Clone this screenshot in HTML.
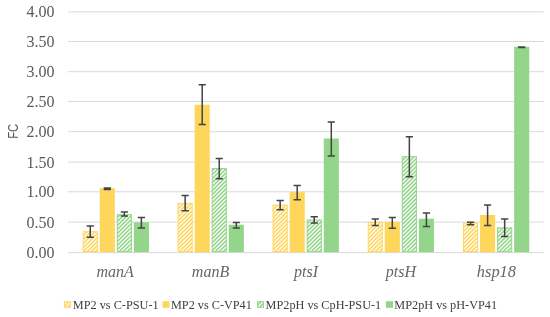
<!DOCTYPE html><html><head><meta charset="utf-8"><style>html,body{margin:0;padding:0;background:#fff;}svg{display:block;}</style></head><body>
<svg width="550" height="317" viewBox="0 0 550 317">
<defs>
<pattern id="hy" patternUnits="userSpaceOnUse" width="4" height="4"><polygon points="0,1.8 1.8,0 4,0 0,4" fill="#FFD65C"/><polygon points="4,1.8 1.8,4 4,4" fill="#FFD65C"/></pattern>
<pattern id="hg" patternUnits="userSpaceOnUse" width="4" height="4"><polygon points="0,1.8 1.8,0 4,0 0,4" fill="#93D58B"/><polygon points="4,1.8 1.8,4 4,4" fill="#93D58B"/></pattern>
</defs>
<line x1="68.0" y1="252.6" x2="543.6" y2="252.6" stroke="#D9D9D9" stroke-width="1"/>
<line x1="68.0" y1="222.1" x2="543.6" y2="222.1" stroke="#D9D9D9" stroke-width="1"/>
<line x1="68.0" y1="191.8" x2="543.6" y2="191.8" stroke="#D9D9D9" stroke-width="1"/>
<line x1="68.0" y1="162.1" x2="543.6" y2="162.1" stroke="#D9D9D9" stroke-width="1"/>
<line x1="68.0" y1="131.7" x2="543.6" y2="131.7" stroke="#D9D9D9" stroke-width="1"/>
<line x1="68.0" y1="101.5" x2="543.6" y2="101.5" stroke="#D9D9D9" stroke-width="1"/>
<line x1="68.0" y1="71.7" x2="543.6" y2="71.7" stroke="#D9D9D9" stroke-width="1"/>
<line x1="68.0" y1="41.5" x2="543.6" y2="41.5" stroke="#D9D9D9" stroke-width="1"/>
<line x1="68.0" y1="11.9" x2="543.6" y2="11.9" stroke="#D9D9D9" stroke-width="1"/>
<text x="54.5" y="258.1" text-anchor="end" font-family="Liberation Serif, serif" font-size="16" fill="#595959">0.00</text>
<text x="54.5" y="227.6" text-anchor="end" font-family="Liberation Serif, serif" font-size="16" fill="#595959">0.50</text>
<text x="54.5" y="197.3" text-anchor="end" font-family="Liberation Serif, serif" font-size="16" fill="#595959">1.00</text>
<text x="54.5" y="167.6" text-anchor="end" font-family="Liberation Serif, serif" font-size="16" fill="#595959">1.50</text>
<text x="54.5" y="137.2" text-anchor="end" font-family="Liberation Serif, serif" font-size="16" fill="#595959">2.00</text>
<text x="54.5" y="107.0" text-anchor="end" font-family="Liberation Serif, serif" font-size="16" fill="#595959">2.50</text>
<text x="54.5" y="77.2" text-anchor="end" font-family="Liberation Serif, serif" font-size="16" fill="#595959">3.00</text>
<text x="54.5" y="47.0" text-anchor="end" font-family="Liberation Serif, serif" font-size="16" fill="#595959">3.50</text>
<text x="54.5" y="17.4" text-anchor="end" font-family="Liberation Serif, serif" font-size="16" fill="#595959">4.00</text>
<rect x="83.20" y="231.70" width="14.10" height="20.00" fill="#fff"/>
<rect x="83.20" y="231.70" width="14.10" height="20.00" fill="url(#hy)" stroke="#FFD65C" stroke-width="1"/>
<path d="M86.65 226.10H93.85M90.25 226.10V237.30M86.65 237.30H93.85" stroke="#444444" stroke-width="1.5" fill="none"/>
<rect x="99.75" y="188.10" width="15.10" height="64.10" fill="#FFD65C"/>
<path d="M103.70 187.90H110.90M107.30 187.90V189.60M103.70 189.60H110.90" stroke="#444444" stroke-width="1.5" fill="none"/>
<rect x="117.30" y="214.70" width="14.10" height="37.00" fill="#fff"/>
<rect x="117.30" y="214.70" width="14.10" height="37.00" fill="url(#hg)" stroke="#93D58B" stroke-width="1"/>
<path d="M120.75 211.90H127.95M124.35 211.90V216.10M120.75 216.10H127.95" stroke="#444444" stroke-width="1.5" fill="none"/>
<rect x="133.85" y="222.30" width="15.10" height="29.90" fill="#93D58B"/>
<path d="M137.80 217.40H145.00M141.40 217.40V228.00M137.80 228.00H145.00" stroke="#444444" stroke-width="1.5" fill="none"/>
<rect x="178.10" y="203.40" width="14.10" height="48.30" fill="#fff"/>
<rect x="178.10" y="203.40" width="14.10" height="48.30" fill="url(#hy)" stroke="#FFD65C" stroke-width="1"/>
<path d="M181.55 195.50H188.75M185.15 195.50V210.70M181.55 210.70H188.75" stroke="#444444" stroke-width="1.5" fill="none"/>
<rect x="194.65" y="104.70" width="15.10" height="147.50" fill="#FFD65C"/>
<path d="M198.60 84.80H205.80M202.20 84.80V124.60M198.60 124.60H205.80" stroke="#444444" stroke-width="1.5" fill="none"/>
<rect x="212.20" y="168.50" width="14.10" height="83.20" fill="#fff"/>
<rect x="212.20" y="168.50" width="14.10" height="83.20" fill="url(#hg)" stroke="#93D58B" stroke-width="1"/>
<path d="M215.65 158.60H222.85M219.25 158.60V178.70M215.65 178.70H222.85" stroke="#444444" stroke-width="1.5" fill="none"/>
<rect x="228.75" y="224.70" width="15.10" height="27.50" fill="#93D58B"/>
<path d="M232.70 222.40H239.90M236.30 222.40V227.90M232.70 227.90H239.90" stroke="#444444" stroke-width="1.5" fill="none"/>
<rect x="273.10" y="205.10" width="14.10" height="46.60" fill="#fff"/>
<rect x="273.10" y="205.10" width="14.10" height="46.60" fill="url(#hy)" stroke="#FFD65C" stroke-width="1"/>
<path d="M276.55 200.60H283.75M280.15 200.60V209.80M276.55 209.80H283.75" stroke="#444444" stroke-width="1.5" fill="none"/>
<rect x="289.65" y="192.10" width="15.10" height="60.10" fill="#FFD65C"/>
<path d="M293.60 185.60H300.80M297.20 185.60V199.70M293.60 199.70H300.80" stroke="#444444" stroke-width="1.5" fill="none"/>
<rect x="307.20" y="220.00" width="14.10" height="31.70" fill="#fff"/>
<rect x="307.20" y="220.00" width="14.10" height="31.70" fill="url(#hg)" stroke="#93D58B" stroke-width="1"/>
<path d="M310.65 216.80H317.85M314.25 216.80V223.00M310.65 223.00H317.85" stroke="#444444" stroke-width="1.5" fill="none"/>
<rect x="323.75" y="138.50" width="15.10" height="113.70" fill="#93D58B"/>
<path d="M327.70 121.90H334.90M331.30 121.90V155.90M327.70 155.90H334.90" stroke="#444444" stroke-width="1.5" fill="none"/>
<rect x="368.20" y="222.40" width="14.10" height="29.30" fill="#fff"/>
<rect x="368.20" y="222.40" width="14.10" height="29.30" fill="url(#hy)" stroke="#FFD65C" stroke-width="1"/>
<path d="M371.65 218.90H378.85M375.25 218.90V225.60M371.65 225.60H378.85" stroke="#444444" stroke-width="1.5" fill="none"/>
<rect x="384.75" y="221.90" width="15.10" height="30.30" fill="#FFD65C"/>
<path d="M388.70 217.50H395.90M392.30 217.50V228.30M388.70 228.30H395.90" stroke="#444444" stroke-width="1.5" fill="none"/>
<rect x="402.30" y="156.70" width="14.10" height="95.00" fill="#fff"/>
<rect x="402.30" y="156.70" width="14.10" height="95.00" fill="url(#hg)" stroke="#93D58B" stroke-width="1"/>
<path d="M405.75 136.70H412.95M409.35 136.70V176.80M405.75 176.80H412.95" stroke="#444444" stroke-width="1.5" fill="none"/>
<rect x="418.85" y="218.70" width="15.10" height="33.50" fill="#93D58B"/>
<path d="M422.80 212.90H430.00M426.40 212.90V226.50M422.80 226.50H430.00" stroke="#444444" stroke-width="1.5" fill="none"/>
<rect x="463.50" y="223.10" width="14.10" height="28.60" fill="#fff"/>
<rect x="463.50" y="223.10" width="14.10" height="28.60" fill="url(#hy)" stroke="#FFD65C" stroke-width="1"/>
<path d="M466.95 222.20H474.15M470.55 222.20V224.70M466.95 224.70H474.15" stroke="#444444" stroke-width="1.5" fill="none"/>
<rect x="480.05" y="215.00" width="15.10" height="37.20" fill="#FFD65C"/>
<path d="M484.00 204.90H491.20M487.60 204.90V225.60M484.00 225.60H491.20" stroke="#444444" stroke-width="1.5" fill="none"/>
<rect x="497.60" y="227.90" width="14.10" height="23.80" fill="#fff"/>
<rect x="497.60" y="227.90" width="14.10" height="23.80" fill="url(#hg)" stroke="#93D58B" stroke-width="1"/>
<path d="M501.05 218.90H508.25M504.65 218.90V236.60M501.05 236.60H508.25" stroke="#444444" stroke-width="1.5" fill="none"/>
<rect x="514.15" y="46.80" width="15.10" height="205.40" fill="#93D58B"/>
<path d="M518.10 46.90H525.30M521.70 46.90V47.50M518.10 47.50H525.30" stroke="#444444" stroke-width="1.5" fill="none"/>
<text x="115.1" y="276.8" text-anchor="middle" font-family="Liberation Serif, serif" font-style="italic" font-size="16" fill="#666666">manA</text>
<text x="210.5" y="276.8" text-anchor="middle" font-family="Liberation Serif, serif" font-style="italic" font-size="16" fill="#666666">manB</text>
<text x="306.0" y="276.8" text-anchor="middle" font-family="Liberation Serif, serif" font-style="italic" font-size="16" fill="#666666">ptsI</text>
<text x="400.9" y="276.8" text-anchor="middle" font-family="Liberation Serif, serif" font-style="italic" font-size="16" fill="#666666">ptsH</text>
<text x="496.4" y="276.8" text-anchor="middle" font-family="Liberation Serif, serif" font-style="italic" font-size="16" fill="#666666" textLength="39.2" lengthAdjust="spacingAndGlyphs">hsp18</text>
<text transform="translate(17.7,131.3) rotate(-90)" text-anchor="middle" font-family="Liberation Sans, sans-serif" font-size="14" fill="#595959" textLength="15" lengthAdjust="spacingAndGlyphs">FC</text>
<rect x="64.4" y="301.7" width="6" height="5.6" fill="url(#hy)" stroke="#FFD65C" stroke-width="1"/>
<text x="72.8" y="309.4" font-family="Liberation Serif, serif" font-size="12.8" fill="#404040" textLength="85.8" lengthAdjust="spacingAndGlyphs">MP2 vs C-PSU-1</text>
<rect x="162.5" y="301.2" width="7" height="6.6" fill="#FFD65C"/>
<text x="171.0" y="309.4" font-family="Liberation Serif, serif" font-size="12.8" fill="#404040" textLength="80.8" lengthAdjust="spacingAndGlyphs">MP2 vs C-VP41</text>
<rect x="257.5" y="301.7" width="6" height="5.6" fill="url(#hg)" stroke="#93D58B" stroke-width="1"/>
<text x="265.6" y="309.4" font-family="Liberation Serif, serif" font-size="12.8" fill="#404040" textLength="115.6" lengthAdjust="spacingAndGlyphs">MP2pH vs CpH-PSU-1</text>
<rect x="386" y="301.2" width="7" height="6.6" fill="#93D58B"/>
<text x="394.3" y="309.4" font-family="Liberation Serif, serif" font-size="12.8" fill="#404040" textLength="102.8" lengthAdjust="spacingAndGlyphs">MP2pH vs pH-VP41</text>
</svg></body></html>
